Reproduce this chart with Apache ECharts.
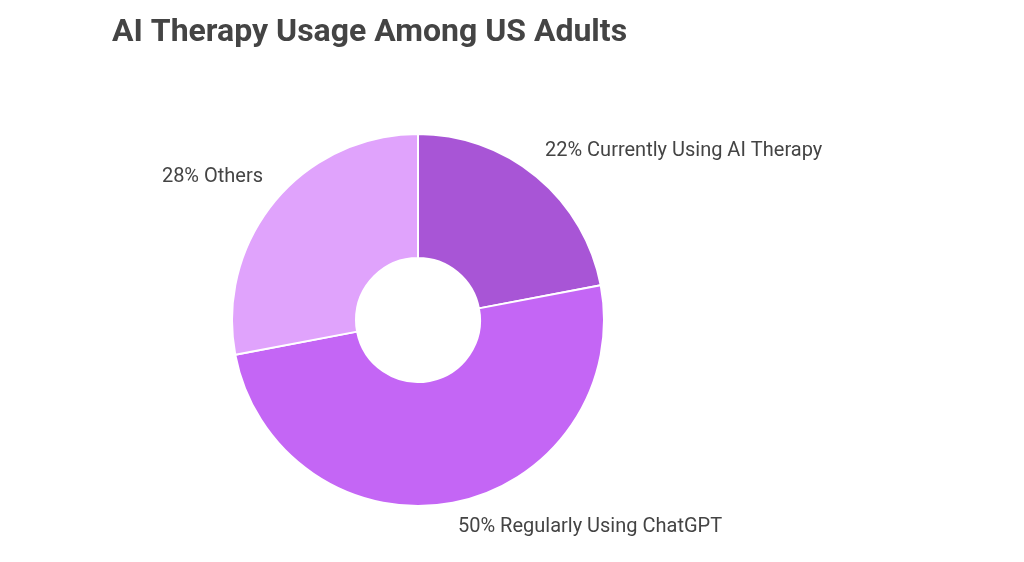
<!DOCTYPE html>
<html><head><meta charset="utf-8">
<script src="https://cdn.jsdelivr.net/npm/echarts@6/dist/echarts.min.js"></script>
<style>html,body{margin:0;background:#fff}#c{width:1024px;height:562px}</style>
</head><body><div id="c"></div>
<script>
const categories = ["Currently Using AI Therapy", "Regularly Using ChatGPT", "Others"];
const values = [22, 50, 28];
const colors = ["#a855d6", "#c466f5", "#e0a3fc"];
const labelSpots = [
  { x: 545, y: 151, align: "left" },
  { x: 458, y: 527, align: "left" },
  { x: 263, y: 177, align: "right" }
];

const chart = echarts.init(document.getElementById("c"));
chart.setOption({
  title: {
    text: "AI Therapy Usage Among US Adults",
    left: 107, top: 12,
    textStyle: { fontFamily: "Roboto", fontWeight: "bold", fontSize: 32, color: "#444" }
  },
  series: [{
    type: "pie",
    center: [418, 320],
    radius: [62, 186],
    startAngle: 90,
    clockwise: true,
    silent: true,
    itemStyle: { borderColor: "#fff", borderWidth: 2 },
    label: {
      formatter: p => p.value + "% " + p.name,
      fontFamily: "Roboto", fontSize: 20, color: "#444"
    },
    labelLine: { show: false },
    labelLayout: p => {
      const s = labelSpots[p.dataIndex];
      return { x: s.x, y: s.y, align: s.align, verticalAlign: "middle" };
    },
    data: categories.map((n, i) => ({ name: n, value: values[i], itemStyle: { color: colors[i] } }))
  }]
});
</script></body></html>
